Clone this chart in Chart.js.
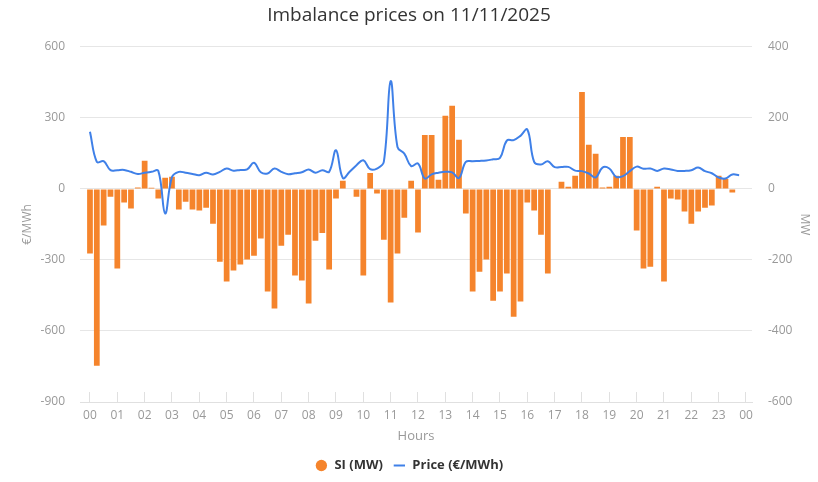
<!DOCTYPE html>
<html>
<head>
<meta charset="utf-8">
<script src="https://cdn.jsdelivr.net/npm/chart.js@4.4.0/dist/chart.umd.min.js"></script>
<style>
html, body { margin:0; padding:0; background:#fff; }
#wrap { width:818px; height:482px; }
</style>
</head>
<body>
<div id="wrap"><canvas id="grafico"></canvas></div>
<script>
// SI (MW) por quarto de hora, 96 valores
const si = [
  -182, -498, -103, -22, -224, -38, -55, 4, 79, 3, -27, 31,
  34, -58, -36, -58, -61, -53, -98, -205, -261, -230, -213, -199,
  -188, -140, -289, -337, -160, -129, -244, -258, -323, -146, -124, -227,
  -27, 23, 0, -22, -244, 45, -13, -143, -320, -182, -81, 23,
  -123, 152, 152, 26, 206, 234, 138, -69, -289, -233, -199, -315,
  -289, -238, -360, -317, -38, -61, -129, -238, 0, 20, 6, 37,
  273, 124, 99, 4, 6, 37, 146, 146, -117, -224, -219, 6,
  -261, -27, -30, -64, -98, -64, -53, -47, 37, 28, -10, 0
];

// Preço (€/MWh)
const price = [
  241, 114, 117, 79, 79, 80, 72, 63, 68, 72, 76, -104,
  50, 72, 68, 63, 58, 68, 61, 72, 86, 77, 80, 82,
  110, 70, 65, 86, 72, 62, 66, 70, 82, 68, 79, 72,
  163, 46, 72, 100, 121, 83, 86, 114, 455, 177, 149, 96,
  107, 44, 61, 68, 72, 70, 46, 114, 117, 118, 120, 125,
  131, 204, 206, 224, 251, 114, 103, 117, 92, 92, 93, 77,
  75, 65, 48, 90, 86, 51, 54, 75, 94, 85, 86, 76,
  86, 82, 76, 76, 79, 90, 75, 66, 48, 44, 61, 58
];

// ticks do eixo x: a cada hora (4 quartos)
const hourTicks = [0,4,8,12,16,20,24,28,32,36,40,44,48,52,56,60,64,68,72,76,80,84,88,92,96];

Chart.defaults.font.family = "'Open Sans', sans-serif";

const ctx = document.getElementById("grafico").getContext("2d");
const grafico = new Chart(ctx, {
    type: 'bar',
    data: {
        datasets: [
            {
                type: 'line',
                label: 'Price (€/MWh)',
                data: price.map((v,i)=>({x:i, y:v})),
                yAxisID: 'y',
                borderColor: '#3f80e8',
                backgroundColor: '#3f80e8',
                borderWidth: 2,
                pointRadius: 0,
                tension: 0.4,
                pointStyle: 'line'
            },
            {
                type: 'bar',
                label: 'SI (MW)',
                data: si.map((v,i)=>({x:i, y:v})),
                yAxisID: 'y2',
                backgroundColor: '#f5842c',
                borderWidth: 0,
                barPercentage: 0.84,
                categoryPercentage: 1,
                pointStyle: 'circle'
            }
        ]
    },
    options: {
        responsive: true,
        maintainAspectRatio: false,
        animation: false,
        layout: { padding: 0 },
        plugins: {
            title: {
                display: true,
                text: 'Imbalance prices on 11/11/2025',
                color: '#333333',
                font: { size: 19, weight: 'normal' },
                padding: { top: 4, bottom: 20 }
            },
            legend: {
                position: 'bottom',
                reverse: true,
                labels: {
                    usePointStyle: true,
                    boxHeight: 8,
                    color: '#333333',
                    font: { size: 13, weight: 'bold' },
                    padding: 10
                }
            },
            tooltip: { enabled: false }
        },
        scales: {
            x: {
                type: 'linear',
                min: -1.46,
                max: 96.88,
                offset: false,
                afterBuildTicks: s => { s.ticks = hourTicks.map(v=>({value:v})); },
                afterFit: s => { s.height = 47; },
                ticks: {
                    autoSkip: false,
                    maxRotation: 0,
                    color: '#999999',
                    font: { size: 12 },
                    padding: 16,
                    callback: v => String((v/4)%24).padStart(2,'0')
                },
                grid: {
                    offset: false,
                    drawOnChartArea: false,
                    drawTicks: true,
                    tickLength: -10,
                    color: '#e0e0e0'
                },
                border: { color: '#e0e0e0' },
                title: {
                    display: true,
                    text: 'Hours',
                    color: '#999999',
                    font: { size: 13 },
                    padding: { top: 0, bottom: 5 }
                }
            },
            y: {
                position: 'left',
                min: -900,
                max: 600,
                afterFit: s => { s.width = 80; },
                ticks: { stepSize: 300, color: '#999999', font: { size: 12 }, padding: 15 },
                grid: { color: '#e6e6e6', drawTicks: false },
                border: { display: false },
                title: {
                    display: true,
                    text: '€/MWh',
                    color: '#999999',
                    font: { size: 12 },
                    padding: { top: 20, bottom: 0 }
                }
            },
            y2: {
                position: 'right',
                min: -600,
                max: 400,
                afterFit: s => { s.width = 66; },
                ticks: { stepSize: 200, color: '#999999', font: { size: 12 }, padding: 16 },
                grid: { drawOnChartArea: false, drawTicks: false },
                border: { display: false },
                title: {
                    display: true,
                    text: 'MW',
                    color: '#999999',
                    font: { size: 12 },
                    padding: { top: 6, bottom: 0 }
                }
            }
        }
    }
});
</script>
</body>
</html>
